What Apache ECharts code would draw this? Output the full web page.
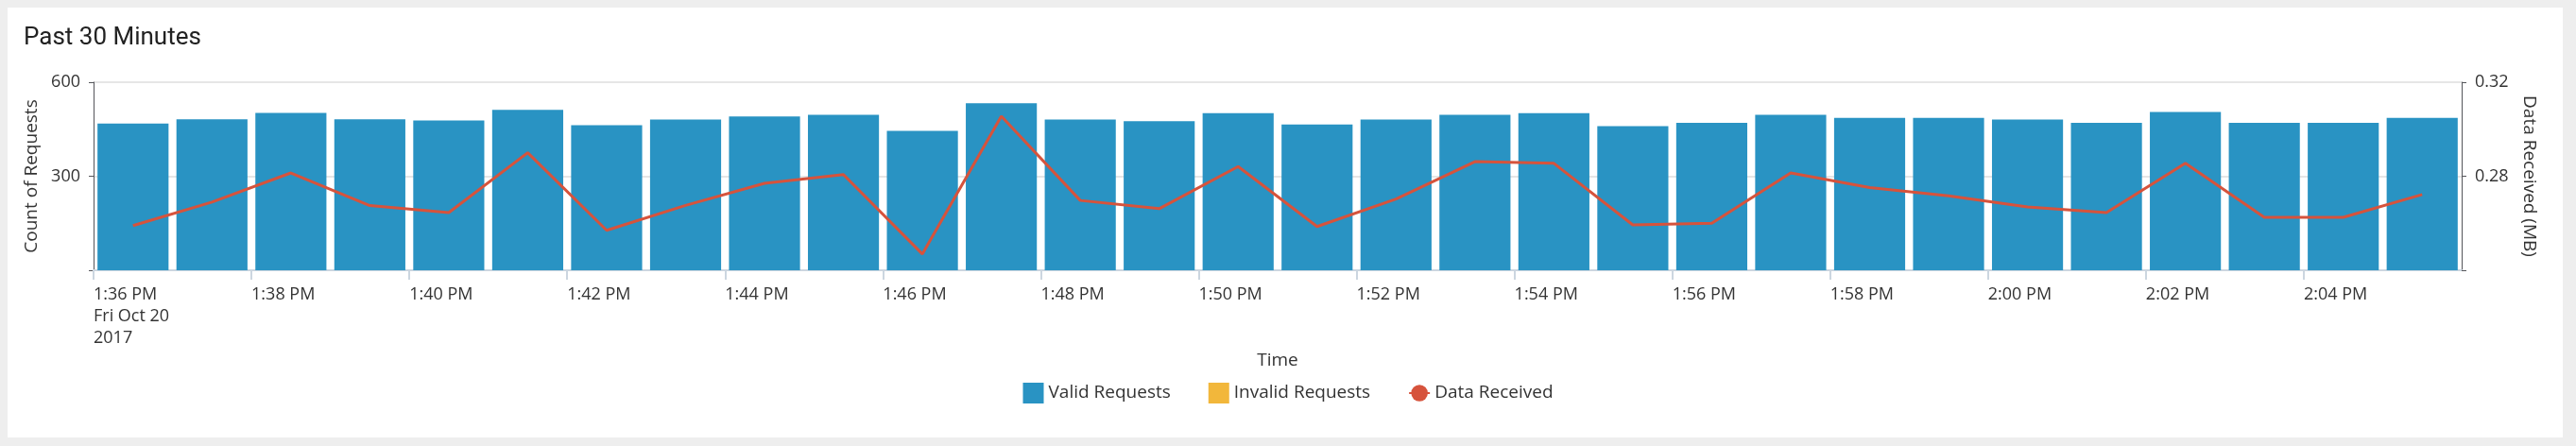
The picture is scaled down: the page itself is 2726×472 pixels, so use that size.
<!DOCTYPE html>
<html><head><meta charset="utf-8">
<script src="https://cdn.jsdelivr.net/npm/echarts@6/dist/echarts.min.js"></script>
<style>html,body{margin:0;padding:0;background:#eeeeee}#c{width:2726px;height:472px}</style>
</head><body><div id="c"></div>
<script>
const minutes = ["1:36","1:37","1:38","1:39","1:40","1:41","1:42","1:43","1:44","1:45","1:46","1:47","1:48","1:49","1:50","1:51","1:52","1:53","1:54","1:55","1:56","1:57","1:58","1:59","2:00","2:01","2:02","2:03","2:04","2:05"];
const tickLabels = ["1:36 PM\nFri Oct 20\n2017","1:38 PM","1:40 PM","1:42 PM","1:44 PM","1:46 PM","1:48 PM","1:50 PM","1:52 PM","1:54 PM","1:56 PM","1:58 PM","2:00 PM","2:02 PM","2:04 PM"];
const validRequests = [468,482,502,482,478,512,463,481,491,496,445,533,481,476,501,465,481,496,501,460,470,496,486,486,481,470,505,470,470,486];
const invalidRequests = [0,0,0,0,0,0,0,0,0,0,0,0,0,0,0,0,0,0,0,0,0,0,0,0,0,0,0,0,0,0];
const dataReceived = [0.259,0.269,0.2814,0.2675,0.2645,0.290,0.257,0.2676,0.277,0.2807,0.2469,0.3055,0.2697,0.2662,0.2841,0.2586,0.2703,0.2862,0.2855,0.2593,0.260,0.2814,0.2752,0.2717,0.2669,0.2645,0.2855,0.2625,0.2625,0.2722];

const font = "Open Sans";
const chart = echarts.init(document.getElementById('c'));
chart.setOption({
  animation:false,
  backgroundColor:'#eeeeee',
  textStyle:{fontFamily:font},
  graphic:[{type:'rect',z:-10,shape:{x:8,y:8,width:2704,height:455},style:{fill:'#fff'}}],
  title:{text:'Past 30 Minutes',left:20,top:22,textStyle:{fontFamily:'Roboto',fontSize:26,fontWeight:'normal',color:'#222'}},
  legend:{bottom:40,left:'center',itemWidth:22,itemHeight:22,itemGap:40,
    textStyle:{fontSize:19,color:'#333'},
    data:[{name:'Valid Requests',icon:'rect'},{name:'Invalid Requests',icon:'rect'},{name:'Data Received'}]},
  grid:{left:99,right:121,top:87,bottom:186},
  xAxis:[
    {type:'category',data:minutes,boundaryGap:true,axisTick:{show:false},axisLabel:{show:false},
     axisLine:{lineStyle:{color:'#ccd6e0',width:2}}},
    {type:'value',position:'bottom',min:0,max:30,interval:2,
     splitLine:{show:false},axisLine:{show:false},
     axisTick:{show:true,length:10,lineStyle:{color:'#ccd6e0',width:2}},
     axisLabel:{align:'left',fontSize:18,color:'#333',lineHeight:23,margin:14,showMaxLabel:false,
       formatter:v=>tickLabels[v/2]||''},
     name:'Time',nameLocation:'middle',nameGap:86,nameTextStyle:{fontSize:19,color:'#333'}}
  ],
  yAxis:[
    {type:'value',min:0,max:600,interval:300,
     axisLabel:{fontSize:18,color:'#333',margin:14,formatter:v=>v===0?'':v},
     splitLine:{lineStyle:{color:'#e6e6e6',width:2}},
     name:'Count of Requests',nameLocation:'middle',nameGap:52,nameTextStyle:{fontSize:19,color:'#333'}},
    {type:'value',min:0.24,max:0.32,interval:0.04,position:'right',
     axisLabel:{fontSize:18,color:'#333',margin:14,formatter:v=>Math.abs(v-0.24)<1e-9?'':v.toFixed(2)},
     splitLine:{show:false},
     name:'Data Received (MB)',nameLocation:'middle',nameRotate:-90,nameGap:62,nameTextStyle:{fontSize:19,color:'#333'}}
  ],
  series:[
    {name:'Valid Requests',type:'bar',stack:'r',data:validRequests,barCategoryGap:'10%',
     itemStyle:{color:'#2993c3',borderColor:'#7cc3e3',borderWidth:0}},
    {name:'Invalid Requests',type:'bar',stack:'r',data:invalidRequests,itemStyle:{color:'#f2b73b'}},
    {name:'Data Received',type:'line',yAxisIndex:1,data:dataReceived,symbol:'none',
     lineStyle:{color:'#d6533c',width:3},itemStyle:{color:'#d6533c'}}
  ]
});
</script></body></html>
